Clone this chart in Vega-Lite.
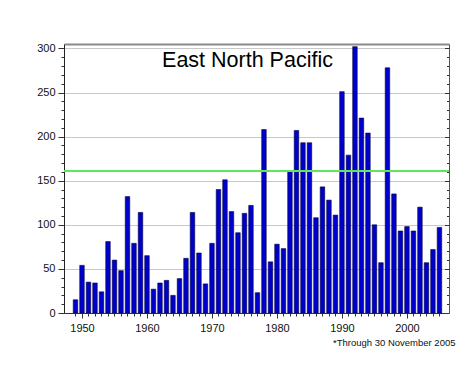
{
  "$schema": "https://vega.github.io/schema/vega-lite/v6.json",
  "autosize": "none",
  "width": 385,
  "height": 269,
  "padding": {"left": 64, "top": 44, "right": 25, "bottom": 53},
  "background": "white",
  "config": {
    "view": {"stroke": null},
    "font": "Liberation Sans",
    "axis": {"labelFont": "Liberation Sans", "labelFontSize": 11, "labelColor": "#111", "tickColor": "#333", "domainColor": "#333", "grid": false}
  },
  "title": {
    "text": "East North Pacific",
    "font": "Liberation Sans",
    "fontSize": 21.5,
    "fontWeight": "normal",
    "color": "#000",
    "anchor": "middle",
    "baseline": "alphabetic",
    "offset": -24,
    "dx": -9,
    "dy": 22
  },
  "data": {
    "values": [
      {"year": 1949, "ace": 15}, {"year": 1950, "ace": 54}, {"year": 1951, "ace": 35}, {"year": 1952, "ace": 34},
      {"year": 1953, "ace": 24}, {"year": 1954, "ace": 81}, {"year": 1955, "ace": 60}, {"year": 1956, "ace": 48},
      {"year": 1957, "ace": 132}, {"year": 1958, "ace": 79}, {"year": 1959, "ace": 114}, {"year": 1960, "ace": 65},
      {"year": 1961, "ace": 27}, {"year": 1962, "ace": 34}, {"year": 1963, "ace": 37}, {"year": 1964, "ace": 20},
      {"year": 1965, "ace": 39}, {"year": 1966, "ace": 62}, {"year": 1967, "ace": 114}, {"year": 1968, "ace": 68},
      {"year": 1969, "ace": 33}, {"year": 1970, "ace": 79}, {"year": 1971, "ace": 140}, {"year": 1972, "ace": 151},
      {"year": 1973, "ace": 115}, {"year": 1974, "ace": 91}, {"year": 1975, "ace": 113}, {"year": 1976, "ace": 122},
      {"year": 1977, "ace": 23}, {"year": 1978, "ace": 208}, {"year": 1979, "ace": 58}, {"year": 1980, "ace": 78},
      {"year": 1981, "ace": 73}, {"year": 1982, "ace": 161}, {"year": 1983, "ace": 207}, {"year": 1984, "ace": 193},
      {"year": 1985, "ace": 193}, {"year": 1986, "ace": 108}, {"year": 1987, "ace": 143}, {"year": 1988, "ace": 128},
      {"year": 1989, "ace": 111}, {"year": 1990, "ace": 251}, {"year": 1991, "ace": 179}, {"year": 1992, "ace": 302},
      {"year": 1993, "ace": 221}, {"year": 1994, "ace": 204}, {"year": 1995, "ace": 100}, {"year": 1996, "ace": 57},
      {"year": 1997, "ace": 278}, {"year": 1998, "ace": 135}, {"year": 1999, "ace": 93}, {"year": 2000, "ace": 98},
      {"year": 2001, "ace": 93}, {"year": 2002, "ace": 120}, {"year": 2003, "ace": 57}, {"year": 2004, "ace": 72},
      {"year": 2005, "ace": 97}
    ]
  },
  "layer": [
    {
      "mark": {"type": "point", "opacity": 0},
      "encoding": {
        "x": {"field": "year", "type": "quantitative",
          "scale": {"domain": [1948, 2005.7], "nice": false, "zero": false},
          "axis": {"orient": "top", "values": [], "labels": false, "ticks": false, "domainColor": "#8a8a8a", "domainWidth": 2, "title": null}},
        "y": {"field": "ace", "type": "quantitative",
          "scale": {"domain": [0, 305], "nice": false},
          "axis": {"orient": "right", "values": [0,10,20,30,40,60,70,80,90,110,120,130,140,160,170,180,190,210,220,230,240,260,270,280,290], "labels": false, "tickSize": -2.5, "domainColor": "#555", "title": null}}
      }
    },
    {
      "mark": {"type": "point", "opacity": 0},
      "encoding": {
        "x": {"field": "year", "type": "quantitative",
          "axis": {"orient": "bottom", "values": [1949,1951,1952,1953,1954,1955,1956,1957,1958,1959,1961,1962,1963,1964,1965,1966,1967,1968,1969,1971,1972,1973,1974,1975,1976,1977,1978,1979,1981,1982,1983,1984,1985,1986,1987,1988,1989,1991,1992,1993,1994,1995,1996,1997,1998,1999,2001,2002,2003,2004,2005], "labels": false, "tickSize": 3, "domain": false, "title": null}},
        "y": {"field": "ace", "type": "quantitative",
          "axis": {"orient": "right", "values": [50,100,150,200,250,300], "labels": false, "tickSize": -4.5, "domain": false, "title": null}}
      }
    },
    {
      "mark": {"type": "point", "opacity": 0},
      "encoding": {
        "x": {"field": "year", "type": "quantitative", "axis": null},
        "y": {"field": "ace", "type": "quantitative",
          "axis": {"orient": "left", "values": [10,20,30,40,60,70,80,90,110,120,130,140,160,170,180,190,210,220,230,240,260,270,280,290], "labels": false, "tickSize": 3, "domain": false, "title": null}}
      }
    },
    {
      "mark": {"type": "bar", "size": 4.5, "color": "#0000cc", "stroke": "#00003a", "strokeWidth": 0.6},
      "encoding": {
        "x": {"field": "year", "type": "quantitative",
          "axis": {"orient": "bottom", "values": [1950,1960,1970,1980,1990,2000], "format": "d", "tickSize": 5, "labelPadding": 4,
            "title": "*Through 30 November 2005", "titleFont": "Liberation Sans", "titleFontSize": 9.5, "titleFontWeight": "normal", "titleColor": "#111",
            "titleX": 391, "titleY": 32, "titleAlign": "right", "titleBaseline": "alphabetic", "titleAnchor": null}},
        "y": {"field": "ace", "type": "quantitative",
          "axis": {"orient": "left", "values": [0,50,100,150,200,250,300], "tickSize": 6, "labelPadding": 3, "grid": true, "gridColor": "#c8c8c8", "gridWidth": 1, "domainColor": "#222", "title": null}}
      }
    },
    {
      "mark": {"type": "rule", "color": "#5fe65f", "strokeWidth": 2},
      "encoding": {"y": {"datum": 161, "type": "quantitative", "axis": null}}
    }
  ],
  "resolve": {"axis": {"x": "independent", "y": "independent"}}
}
